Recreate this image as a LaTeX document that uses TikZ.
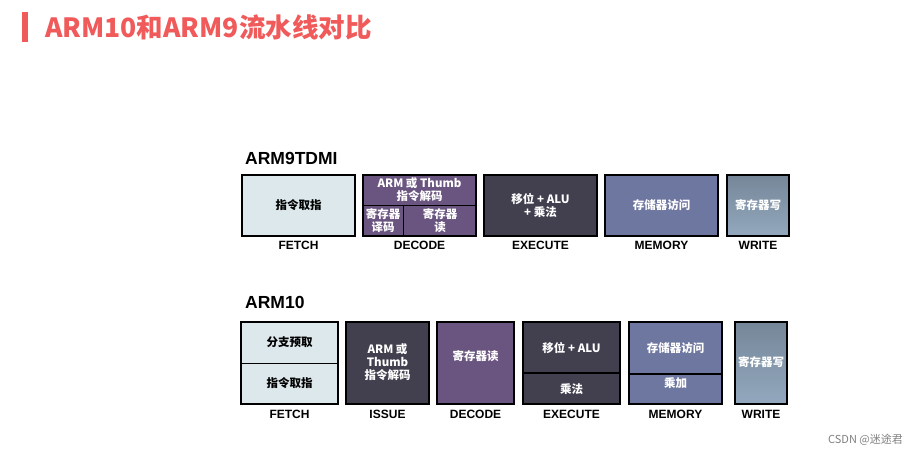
\documentclass[tikz,border=0pt]{standalone}
\usepackage{fontspec}
\setmainfont{Liberation Sans}
\newfontfamily\cjk{Noto Sans CJK SC}
\usetikzlibrary{calc}
\definecolor{titlered}{HTML}{F05A5A}
\definecolor{lightfill}{HTML}{DDE8EC}
\definecolor{purplefill}{HTML}{6A5580}
\definecolor{darkfill}{HTML}{42404F}
\definecolor{memfill}{HTML}{6E77A0}
\definecolor{writefill}{HTML}{93A8BE}

\begin{document}
\begin{tikzpicture}[x=1pt,y=-1pt,
    stage/.style={draw=black,line width=1.6pt},
    lbl/.style={font=\cjk\bfseries\fontsize{11.5}{13}\selectfont,align=center,inner sep=0pt},
    stagename/.style={font=\bfseries\fontsize{12}{13}\selectfont,inner sep=0pt},
    head/.style={font=\bfseries\fontsize{17.5}{20}\selectfont,anchor=west,inner sep=0pt}]
\useasboundingbox (0,0) rectangle (920,457);

% title
\fill[titlered] (22,12) rectangle (28,42);
\node[anchor=west,inner sep=0pt,text=titlered,font=\cjk\bfseries\fontsize{26.5}{28}\selectfont] (title) at (45,27) {ARM10和ARM9流水线对比};

% ARM9TDMI
\node[head] (h9) at (245,158) {ARM9TDMI};
\draw[stage,fill=lightfill] (242,175) rectangle (355,236);
\node[lbl] (f9) at (298.5,205.5) {指令取指};
\draw[stage,fill=purplefill] (363,175) rectangle (476,236);
\draw[black,line width=1pt] (363,205) -- (476,205) (403,205) -- (403,236);
\node[lbl,text=white] (d9a) at (419.5,190) {ARM 或 Thumb\\指令解码};
\node[lbl,text=white] (d9b) at (383,220.5) {寄存器\\译码};
\node[lbl,text=white] (d9c) at (440,220.5) {寄存器\\读};
\draw[stage,fill=darkfill] (484,175) rectangle (597,236);
\node[lbl,text=white] (e9) at (540.5,205.5) {移位 + ALU\\+ 乘法};
\draw[stage,fill=memfill] (605,175) rectangle (718,236);
\node[lbl,text=white] (m9) at (661.5,205.5) {存储器访问};
\draw[stage,top color=writefill!80!black,bottom color=writefill] (727,175) rectangle (789,236);
\node[lbl,text=white] (w9) at (758,205.5) {寄存器写};
\foreach \x/\t in {298.5/FETCH,419.5/DECODE,540.5/EXECUTE,661.5/MEMORY,758/WRITE}
  \node[stagename] at (\x,245) {\t};

% ARM10
\node[head] (h10) at (245,302) {ARM10};
\draw[stage,fill=lightfill] (241,322) rectangle (338,404);
\draw[black,line width=1pt] (241,363) -- (338,363);
\node[lbl] (f10a) at (289.5,342.5) {分支预取};
\node[lbl] (f10b) at (289.5,383.5) {指令取指};
\draw[stage,fill=darkfill] (346,322) rectangle (429,404);
\node[lbl,text=white] (i10) at (387.5,362) {ARM 或\\Thumb\\指令解码};
\draw[stage,fill=purplefill] (437,322) rectangle (514,404);
\node[lbl,text=white] (d10) at (475.5,356) {寄存器读};
\draw[stage,fill=darkfill] (523,322) rectangle (620,404);
\draw[black,line width=1.2pt] (523,373) -- (620,373);
\node[lbl,text=white] (e10a) at (571.5,348) {移位 + ALU};
\node[lbl,text=white] (e10b) at (571.5,389) {乘法};
\draw[stage,fill=memfill] (629,322) rectangle (722,404);
\draw[black,line width=1.2pt] (629,374) -- (722,374);
\node[lbl,text=white] (m10a) at (675.5,348) {存储器访问};
\node[lbl,text=white] (m10b) at (675.5,383) {乘加};
\draw[stage,top color=writefill!80!black,bottom color=writefill] (735,322) rectangle (787,404);
\node[lbl,text=white] (w10) at (761,362) {寄存器写};
\foreach \x/\t in {289.5/FETCH,387.5/ISSUE,475.5/DECODE,571.5/EXECUTE,675.5/MEMORY,761/WRITE}
  \node[stagename] at (\x,414) {\t};

% watermark
\node[anchor=east,inner sep=0pt,text=gray,font=\cjk\fontsize{11}{12}\selectfont] (wm) at (903,440) {CSDN @迷途君};
\end{tikzpicture}
\end{document}
